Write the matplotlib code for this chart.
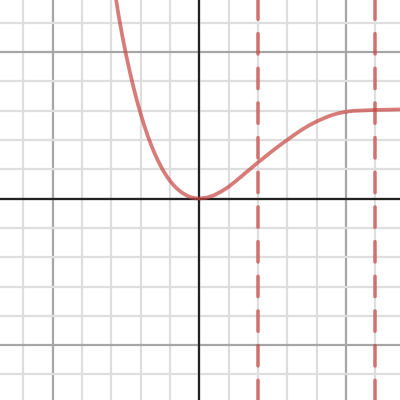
import matplotlib
matplotlib.use("Agg")
import matplotlib.pyplot as plt
from matplotlib.ticker import MultipleLocator, NullFormatter

# points
curve_x = [-3.0, -2.875, -2.75, -2.625, -2.5, -2.375, -2.25, -2.125, -2.0, -1.875,
           -1.75, -1.625, -1.5, -1.375, -1.25, -1.125, -1.0, -0.875, -0.75, -0.625,
           -0.5, -0.375, -0.25, -0.125, 0.0,
           0.25, 0.5, 0.75, 1.0, 1.25, 1.5, 1.75, 2.0, 2.25, 2.5, 2.75, 3.0,
           3.25, 3.5, 3.75, 4.0, 4.25, 4.5, 4.75, 5.0, 5.25, 5.5, 6.0, 6.5, 6.9]
curve_y = [7.9, 7.05, 6.25, 5.56, 4.93, 4.36, 3.83, 3.34, 2.9, 2.49,
           2.12, 1.79, 1.49, 1.23, 0.99, 0.785, 0.606, 0.455, 0.33, 0.225,
           0.145, 0.08, 0.035, 0.009, 0.0,
           0.03, 0.11, 0.24, 0.40, 0.60, 0.81, 1.02, 1.23, 1.43, 1.63, 1.82, 2.0,
           2.18, 2.35, 2.50, 2.63, 2.74, 2.84, 2.91, 2.96, 2.99, 3.0, 3.02, 3.03, 3.04]

# vertical dashed lines
asymptotes = [2, 6]

red = "#c74440"
x_range = (-6.79, 6.84)
y_range = (-6.87, 6.77)

fig = plt.figure(figsize=(4, 4), dpi=100)
ax = fig.add_axes([0, 0, 1, 1])
ax.set_xlim(*x_range)
ax.set_ylim(*y_range)

for axis in (ax.xaxis, ax.yaxis):
    axis.set_major_locator(MultipleLocator(5))
    axis.set_minor_locator(MultipleLocator(1))
    axis.set_major_formatter(NullFormatter())
ax.tick_params(which="both", length=0)
for s in ax.spines.values():
    s.set_visible(False)

ax.grid(which="minor", color="#dedede", lw=1.6)
ax.grid(which="major", color="#a6a6a6", lw=1.6)
ax.set_axisbelow(True)
ax.axhline(0, color="#222222", lw=1.6, zorder=1)
ax.axvline(0, color="#222222", lw=1.6, zorder=1)

ax.plot(curve_x, curve_y, color=red, alpha=0.7, lw=2.7, solid_capstyle="round",
        solid_joinstyle="round", zorder=3)

top = y_range[1] + 20 / 29.35
for xv in asymptotes:
    ax.plot([xv, xv], [top, y_range[0] - 1], color=red, alpha=0.7, lw=2.6,
            dashes=(5.6, 4.0), dash_capstyle="round", zorder=4)

fig.savefig("out.png", dpi=100)
